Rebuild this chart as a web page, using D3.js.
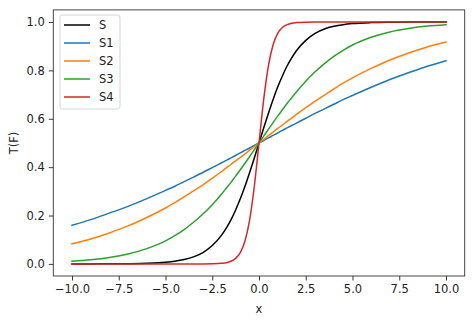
<!DOCTYPE html>
<html>
<head>
<meta charset="utf-8">
<script src="https://cdn.jsdelivr.net/npm/d3@7"></script>
<style>
  html, body { margin: 0; padding: 0; background: #fff; }
  svg { display: block; font-family: "DejaVu Sans", sans-serif; }
</style>
</head>
<body>
<svg id="chart" width="474" height="322"></svg>
<script>
// Sample positions along x (denser near the centre where the curves bend sharply)
const xs = [-10, -9, -8, -7, -6, -5, -4.5, -4, -3.5, -3, -2.5, -2, -1.75, -1.5, -1.25, -1, -0.75, -0.5, -0.25,
  0, 0.25, 0.5, 0.75, 1, 1.25, 1.5, 1.75, 2, 2.5, 3, 3.5, 4, 4.5, 5, 6, 7, 8, 9, 10];

const S = [0.00005, 0.00012, 0.00034, 0.0009, 0.0025, 0.0067, 0.011, 0.018, 0.029, 0.047, 0.076, 0.119, 0.148, 0.182, 0.223, 0.269, 0.321, 0.378, 0.438,
  0.5, 0.562, 0.622, 0.679, 0.731, 0.777, 0.818, 0.852, 0.881, 0.924, 0.953, 0.971, 0.982, 0.989, 0.9933, 0.9975, 0.9991, 0.99966, 0.99988, 0.99995];

const S1 = [0.160, 0.183, 0.210, 0.238, 0.270, 0.304, 0.321, 0.340, 0.359, 0.378, 0.398, 0.418, 0.428, 0.438, 0.448, 0.459, 0.469, 0.479, 0.490,
  0.5, 0.510, 0.521, 0.531, 0.541, 0.552, 0.562, 0.572, 0.582, 0.602, 0.622, 0.641, 0.660, 0.679, 0.696, 0.730, 0.762, 0.790, 0.817, 0.840];

const S2 = [0.083, 0.103, 0.128, 0.157, 0.192, 0.231, 0.253, 0.277, 0.302, 0.327, 0.354, 0.382, 0.397, 0.411, 0.426, 0.440, 0.455, 0.470, 0.485,
  0.5, 0.515, 0.530, 0.545, 0.560, 0.574, 0.589, 0.603, 0.618, 0.646, 0.673, 0.698, 0.723, 0.747, 0.769, 0.808, 0.843, 0.872, 0.897, 0.917];

const S3 = [0.011, 0.0171, 0.0266, 0.0411, 0.063, 0.095, 0.117, 0.142, 0.172, 0.206, 0.245, 0.289, 0.313, 0.337, 0.363, 0.389, 0.416, 0.444, 0.472,
  0.5, 0.528, 0.556, 0.584, 0.611, 0.637, 0.663, 0.687, 0.711, 0.755, 0.794, 0.828, 0.858, 0.883, 0.905, 0.937, 0.959, 0.973, 0.983, 0.989];

const S4 = [0, 0, 0, 0, 0, 0, 0, 0.00001, 0.00003, 0.0001, 0.0006, 0.0025, 0.005, 0.011, 0.023, 0.047, 0.095, 0.182, 0.321,
  0.5, 0.679, 0.818, 0.905, 0.953, 0.977, 0.989, 0.995, 0.9975, 0.9994, 0.9999, 0.99997, 0.99999, 1, 1, 1, 1, 1, 1, 1];

const seriesNames = ["S", "S1", "S2", "S3", "S4"];
const seriesColors = ["#000000", "#1f77b4", "#ff7f0e", "#2ca02c", "#d62728"];
const seriesValues = [S, S1, S2, S3, S4];

const xTicks = [-10, -7.5, -5, -2.5, 0, 2.5, 5, 7.5, 10];
const yTicks = [0, 0.2, 0.4, 0.6, 0.8, 1.0];

const svg = d3.select("#chart");
const plotLeft = 53.3, plotRight = 464.7, plotTop = 9.9, plotBottom = 276;

const x = d3.scaleLinear().domain([-11, 11]).range([plotLeft, plotRight]);
const y = d3.scaleLinear().domain([-0.05, 1.05]).range([plotBottom, plotTop]);

const fmt = d => (d < 0 ? "\u2212" : "") + Math.abs(d).toFixed(1);

// Curves
const line = d3.line()
  .x((d, i) => x(xs[i]))
  .y(d => y(d))
  .curve(d3.curveMonotoneX);

const plot = svg.append("g");
seriesValues.forEach((vals, k) => {
  plot.append("path")
    .attr("d", line(vals))
    .attr("fill", "none")
    .attr("stroke", seriesColors[k])
    .attr("stroke-width", 1.5)
    .attr("stroke-linejoin", "round")
    .attr("stroke-linecap", "square");
});

// Axes
const xAxis = d3.axisBottom(x).tickValues(xTicks).tickFormat(fmt).tickSizeInner(4.5).tickSizeOuter(0).tickPadding(4);
const yAxis = d3.axisLeft(y).tickValues(yTicks).tickFormat(fmt).tickSizeInner(4.5).tickSizeOuter(0).tickPadding(4);

const gx = svg.append("g").attr("transform", `translate(0,${plotBottom})`).call(xAxis);
const gy = svg.append("g").attr("transform", `translate(${plotLeft},0)`).call(yAxis);
[gx, gy].forEach(g => {
  g.select(".domain").remove();
  g.selectAll(".tick line").attr("stroke", "#222").attr("stroke-width", 0.9);
  g.selectAll(".tick text").attr("fill", "#222").style("font-size", "11.5px").style("font-family", "DejaVu Sans, sans-serif");
});

// Frame
svg.append("rect")
  .attr("x", plotLeft).attr("y", plotTop)
  .attr("width", plotRight - plotLeft).attr("height", plotBottom - plotTop)
  .attr("fill", "none").attr("stroke", "#333").attr("stroke-width", 0.9);

// Axis labels
svg.append("text")
  .attr("x", (plotLeft + plotRight) / 2).attr("y", 313)
  .attr("text-anchor", "middle")
  .style("font-size", "11.5px").attr("fill", "#222")
  .text("x");
svg.append("text")
  .attr("transform", `translate(18,${(plotTop + plotBottom) / 2}) rotate(-90)`)
  .attr("text-anchor", "middle")
  .style("font-size", "11.5px").attr("fill", "#222")
  .text("T(F)");

// Legend
const legend = svg.append("g");
legend.append("rect")
  .attr("x", 60).attr("y", 15).attr("width", 60).attr("height", 94)
  .attr("rx", 2.5).attr("ry", 2.5)
  .attr("fill", "#fff").attr("fill-opacity", 0.8)
  .attr("stroke", "#d0d0d0").attr("stroke-width", 0.9);
seriesNames.forEach((name, k) => {
  const ly = 25 + k * 18;
  legend.append("line")
    .attr("x1", 64).attr("x2", 90).attr("y1", ly).attr("y2", ly)
    .attr("stroke", seriesColors[k]).attr("stroke-width", 1.5);
  legend.append("text")
    .attr("x", 99).attr("y", ly).attr("dy", "0.36em")
    .style("font-size", "11.5px").attr("fill", "#222")
    .text(name);
});
</script>
</body>
</html>
